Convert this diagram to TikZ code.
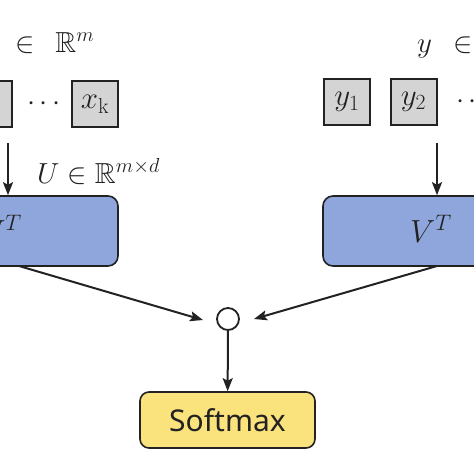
\RequirePackage{fix-cm}
\documentclass[tikz,border=0pt]{standalone}
\usepackage{amssymb}
\usepackage{fontspec}
\newfontfamily\softfont{Noto Sans}
\usetikzlibrary{arrows.meta}
\definecolor{boxblue}{RGB}{143,166,220}
\definecolor{boxyellow}{RGB}{250,226,125}
\definecolor{boxgray}{RGB}{212,212,212}
\definecolor{ink}{RGB}{34,34,34}
\begin{document}
\begin{tikzpicture}[x=1pt,y=-1pt,
  inbox/.style={draw=ink,line width=2pt,fill=boxgray,minimum width=46pt,minimum height=46pt,inner sep=0pt,text=ink,font=\fontsize{31}{35}\selectfont},
  layer/.style={draw=ink,line width=1.6pt,fill=boxblue,rounded corners=10pt,inner sep=0pt,minimum width=228pt,minimum height=70pt},
  outbox/.style={draw=ink,line width=1.6pt,fill=boxyellow,rounded corners=9pt,inner sep=0pt,minimum width=175pt,minimum height=56pt,text=ink,font=\softfont\fontsize{30}{34}\selectfont},
  arr/.style={line width=2pt,draw=ink,-{Stealth[length=13pt,width=10pt,inset=2.5pt]}},
  mathlbl/.style={font=\fontsize{29}{33}\selectfont,inner sep=0pt,text=ink},
  biglbl/.style={font=\fontsize{32}{36}\selectfont,inner sep=0pt,text=ink}]
\useasboundingbox (0,0) rectangle (474,474);
\clip (0,0) rectangle (474,474);

% labels
\node[mathlbl,anchor=base west] (xlab) at (15,52) {$\in\;\,\mathbb{R}^m$};
\node[mathlbl,anchor=base west] (ylab) at (417,52) {$y\;\,\in$};
\node[mathlbl,anchor=base west] (ulab) at (37,183) {$U \in \mathbb{R}^{m\times d}$};

% input boxes
\node[inbox] (x2) at (-11,104) {};
\node[mathlbl] (xdots) at (44,104) {$\cdots$};
\node[inbox] (xk) at (95,104) {$x_{\mathrm{k}}$};
\node[inbox] (y1) at (347,102) {$y_1$};
\node[inbox] (y2) at (413.5,101.5) {$y_2$};
\node[mathlbl] (ydots) at (473,102) {$\cdots$};

% embedding layers
\node[layer] (ubox) at (4,231) {};
\node[biglbl,anchor=base east] (ut) at (22,242) {$U^T$};
\node[layer] (vbox) at (437,231) {};
\node[biglbl,anchor=base east] (vt) at (452,242) {$V^T$};

% combine and softmax
\node[circle,draw=ink,line width=1.8pt,fill=white,minimum size=22pt,inner sep=0pt] (dot) at (228,319) {};
\node[outbox] (soft) at (227.5,420) {Softmax};

% connector coordinates
\coordinate (xa) at (8,143);
\coordinate (ya) at (437,143);
\coordinate (ua) at (19,266);
\coordinate (va) at (437,266);
\coordinate (lt) at (203,320);
\coordinate (rt) at (254,319);

\draw[arr] (xa) -- (xa |- ubox.north);
\draw[arr] (ya) -- (ya |- vbox.north);
\draw[arr] (ua) -- (lt);
\draw[arr] (va) -- (rt);
\draw[arr] (dot) -- (soft);
\end{tikzpicture}
\end{document}
